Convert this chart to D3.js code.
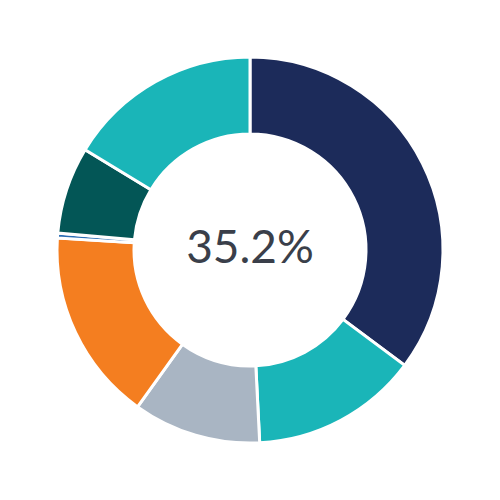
<!DOCTYPE html>
<html lang="en">
<head>
<meta charset="UTF-8" />
<title>Donut</title>
<style>
  body { margin: 0; background: #fff; }
  svg { display: block; }
</style>
<script src="https://cdn.jsdelivr.net/npm/d3@7"></script>
</head>
<body>
<svg id="chart" width="500" height="500"></svg>
<script>
const labels = ['A', 'B', 'C', 'D', 'E', 'F', 'G'];
const values = [35.2, 14.0, 10.7, 16.1, 0.4, 7.3, 16.3];
const colors = ['#1c2b5a', '#1ab5b8', '#a9b5c3', '#f47e20', '#2a6db5', '#035656', '#1ab5b8'];
const centerLabel = '35.2%';

const width = 500, height = 500;
const outer = 193, inner = 116;
const svg = d3.select('#chart');
const g = svg.append('g').attr('transform', `translate(${width / 2},${height / 2})`);

const pie = d3.pie().sort(null).value(d => d.v);
const arc = d3.arc().innerRadius(inner).outerRadius(outer);
const data = labels.map((l, i) => ({l, v: values[i], c: colors[i]}));

g.selectAll('path')
  .data(pie(data))
  .enter()
  .append('path')
  .attr('d', arc)
  .attr('fill', d => d.data.c)
  .attr('stroke', '#fff')
  .attr('stroke-width', 3);

g.append('text')
  .attr('text-anchor', 'middle')
  .attr('y', 13)
  .attr('font-family', 'Lato, sans-serif')
  .attr('font-size', 46)
  .attr('fill', '#3a3f4a')
  .text(centerLabel);
</script>
</body>
</html>
